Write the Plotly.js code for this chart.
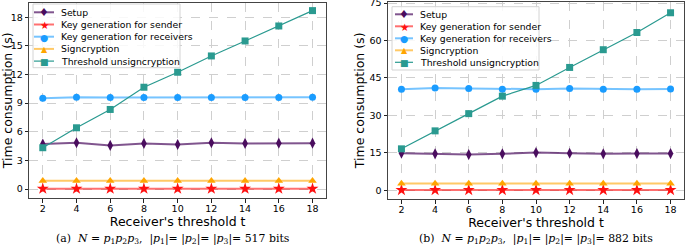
<!DOCTYPE html>
<html><head><meta charset="utf-8">
<script src="https://cdn.plot.ly/plotly-3.0.1.min.js"></script>
<style>html,body{margin:0;padding:0;background:#fff}#chart{width:685px;height:246px}</style>
</head><body><div id="chart"></div>
<script>
const thresholds = [2, 4, 6, 8, 10, 12, 14, 16, 18];
const seriesNames = ['Setup', 'Key generation for sender', 'Key generation for receivers', 'Signcryption', 'Threshold unsigncryption'];

// (a) |p| = 517 bits
const setupA        = [4.71, 4.85, 4.57, 4.78, 4.67, 4.85, 4.78, 4.81, 4.81];
const keySenderA    = [0.03, 0.03, 0.03, 0.03, 0.03, 0.03, 0.03, 0.03, 0.03];
const keyReceiversA = [9.52, 9.63, 9.59, 9.59, 9.59, 9.59, 9.59, 9.60, 9.62];
const signcryptA    = [0.86, 0.86, 0.86, 0.86, 0.86, 0.86, 0.86, 0.86, 0.86];
const unsigncryptA  = [4.33, 6.42, 8.34, 10.67, 12.24, 13.95, 15.52, 17.09, 18.70];

// (b) |p| = 882 bits
const setupB        = [14.84, 14.6, 14.3, 14.6, 15.1, 14.84, 14.6, 14.7, 14.7];
const keySenderB    = [0.1, 0.1, 0.1, 0.1, 0.1, 0.1, 0.1, 0.1, 0.1];
const keyReceiversB = [40.5, 41.0, 40.8, 40.5, 40.5, 40.8, 40.5, 40.5, 40.6];
const signcryptB    = [2.67, 2.67, 2.67, 2.67, 2.67, 2.67, 2.67, 2.67, 2.67];
const unsigncryptB  = [16.6, 23.8, 30.7, 37.7, 42.0, 49.2, 56.3, 63.2, 71.1];

const xTicks  = [2, 4, 6, 8, 10, 12, 14, 16, 18];
const yTicksA = [0, 3, 6, 9, 12, 15, 18];
const yTicksB = [0, 15, 30, 45, 60, 75];
const xTitle = "Receiver's threshold t";
const yTitle = 'Time consumption (s)';
const captionA = '(a)  <i>N</i> = <i>p</i><sub>1</sub><i>p</i><sub>2</sub><i>p</i><sub>3</sub>,  |<i>p</i><sub>1</sub>|= |<i>p</i><sub>2</sub>|= |<i>p</i><sub>3</sub>|= 517 bits';
const captionB = '(b)  <i>N</i> = <i>p</i><sub>1</sub><i>p</i><sub>2</sub><i>p</i><sub>3</sub>,  |<i>p</i><sub>1</sub>|= |<i>p</i><sub>2</sub>|= |<i>p</i><sub>3</sub>|= 882 bits';

// ---- styles ----
const markerColors = ['#4a0d5e', '#ff1010', '#1a9cff', '#ffa500', '#2a9a90'];
const lineColors = ['rgba(74,13,94,0.7)', 'rgba(255,16,16,0.6)', 'rgba(26,156,255,0.6)', 'rgba(255,165,0,0.6)', 'rgba(42,154,144,1)'];
const lineWidths = [2, 2, 2, 2, 1.2];
const symbols = ['diamond-tall', 'star', 'circle', 'triangle-up', 'square'];
const sizes = [8, 9, 7, 7.5, 7];
const glyphs = ['\u2666', '\u2605', '\u25CF', '\u25B2', '\u25A0'];
const glyphSizes = [11, 10.5, 9.5, 8, 9];

const W = 685, H = 246;
const px = p => p / W;
const py = p => 1 - p / H;
const FONT = 'DejaVu Sans, sans-serif';

const dataA = [setupA, keySenderA, keyReceiversA, signcryptA, unsigncryptA];
const dataB = [setupB, keySenderB, keyReceiversB, signcryptB, unsigncryptB];

const traces = [];
function addTraces(series, xa, ya) {
  series.forEach((vals, i) => {
    traces.push({
      type: 'scatter', mode: 'lines+markers', name: seriesNames[i],
      x: thresholds, y: vals, xaxis: xa, yaxis: ya, showlegend: false,
      line: {color: lineColors[i], width: lineWidths[i]},
      marker: {symbol: symbols[i], size: sizes[i], color: markerColors[i], line: {width: 0}},
      cliponaxis: false
    });
  });
}
addTraces(dataA, 'x', 'y');
addTraces(dataB, 'x2', 'y2');

const axisBase = {
  showline: true, mirror: true, linecolor: '#444', linewidth: 1,
  ticks: 'outside', ticklen: 3.5, tickcolor: '#222', tickwidth: 1,
  showgrid: true, gridcolor: '#cfcfcf', gridwidth: 0.8, griddash: 'dash',
  zeroline: false, ticklabeloverflow: 'allow',
  tickfont: {family: FONT, size: 9.5, color: '#000'}
};

const shapes = [];
const annotations = [];
function addLegend(box, lineX0, lineX1, markX, textX, row0, rowGap) {
  shapes.push({type: 'rect', xref: 'paper', yref: 'paper',
    x0: px(box[0]), x1: px(box[1]), y0: py(box[3]), y1: py(box[2]),
    fillcolor: 'rgba(255,255,255,0.85)', line: {color: '#d4d4d4', width: 1}, layer: 'above'});
  seriesNames.forEach((name, i) => {
    const yy = row0 + i * rowGap;
    shapes.push({type: 'line', xref: 'paper', yref: 'paper',
      x0: px(lineX0), x1: px(lineX1), y0: py(yy), y1: py(yy),
      line: {color: lineColors[i], width: lineWidths[i]}, layer: 'above'});
    annotations.push({xref: 'paper', yref: 'paper', x: px(markX), y: py(yy + 0.5),
      text: glyphs[i], showarrow: false, xanchor: 'center', yanchor: 'middle',
      font: {family: 'DejaVu Sans', size: glyphSizes[i], color: markerColors[i]}});
    annotations.push({xref: 'paper', yref: 'paper', x: px(textX), y: py(yy),
      text: name, showarrow: false, xanchor: 'left', yanchor: 'middle',
      font: {family: FONT, size: 9.3, color: '#000'}});
  });
}
addLegend([33, 180, 4, 67.7], 34, 54, 44, 59, 12.3, 12.2);
addLegend([392, 539, 6.7, 70], 395, 413, 404, 418, 14.3, 12.0);

const capFont = {family: 'DejaVu Serif, serif', size: 10.9, color: '#000'};
annotations.push({xref: 'paper', yref: 'paper', x: px(173), y: py(238.5), text: captionA,
  showarrow: false, xanchor: 'center', yanchor: 'middle', font: capFont});
annotations.push({xref: 'paper', yref: 'paper', x: px(536), y: py(238.5), text: captionB,
  showarrow: false, xanchor: 'center', yanchor: 'middle', font: capFont});

const titleFont = {family: FONT, size: 12.5, color: '#000'};
const layout = {
  width: W, height: H, margin: {l: 0, r: 0, t: 0, b: 0},
  paper_bgcolor: '#fff', plot_bgcolor: '#fff', showlegend: false,
  xaxis: Object.assign({}, axisBase, {domain: [px(29.3), px(326)], range: [1.2, 18.8], anchor: 'y',
    ticklabelstandoff: -2, tickvals: xTicks, title: {text: xTitle, font: titleFont, standoff: 0}}),
  yaxis: Object.assign({}, axisBase, {domain: [py(198), py(2.7)], range: [-0.94, 19.53], anchor: 'x',
    tickvals: yTicksA, title: {text: yTitle, font: titleFont, standoff: 2}}),
  xaxis2: Object.assign({}, axisBase, {domain: [px(388), px(684)], range: [1.2, 18.8], anchor: 'y2',
    ticklabelstandoff: -2, tickvals: xTicks, title: {text: xTitle, font: titleFont, standoff: 0}}),
  yaxis2: Object.assign({}, axisBase, {domain: [py(199), py(1.7)], range: [-3.49, 75.53], anchor: 'x2',
    tickvals: yTicksB, title: {text: yTitle, font: titleFont, standoff: 2}}),
  shapes: shapes, annotations: annotations
};
Plotly.newPlot('chart', traces, layout, {displayModeBar: false});
</script></body></html>
